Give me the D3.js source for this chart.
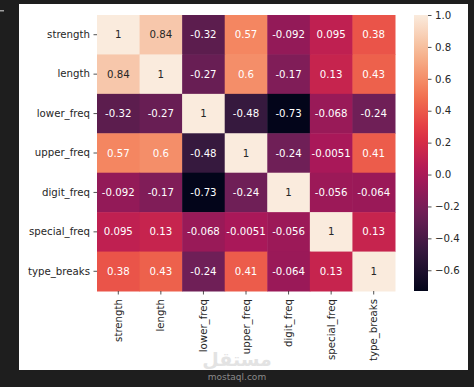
<!DOCTYPE html>
<html>
<head>
<meta charset="utf-8">
<script src="https://cdn.jsdelivr.net/npm/d3@7/dist/d3.min.js"></script>
<style>
    body { margin: 0; background: #1e1e1e; }
    svg { display: block; }
    text { font-family: "DejaVu Sans", sans-serif; }
</style>
</head>
<body>
<svg width="474" height="387"></svg>
<script>
// column / row names
var features = ["strength", "length", "lower_freq", "upper_freq", "digit_freq", "special_freq", "type_breaks"];

// correlation matrix, one row per feature
var strengthRow = [1, 0.84, -0.32, 0.57, -0.092, 0.095, 0.38];
var lengthRow = [0.84, 1, -0.27, 0.6, -0.17, 0.13, 0.43];
var lowerRow = [-0.32, -0.27, 1, -0.48, -0.73, -0.068, -0.24];
var upperRow = [0.57, 0.6, -0.48, 1, -0.24, -0.0051, 0.41];
var digitRow = [-0.092, -0.17, -0.73, -0.24, 1, -0.056, -0.064];
var specialRow = [0.095, 0.13, -0.068, -0.0051, -0.056, 1, 0.13];
var breaksRow = [0.38, 0.43, -0.24, 0.41, -0.064, 0.13, 1];
var rows = [strengthRow, lengthRow, lowerRow, upperRow, digitRow, specialRow, breaksRow];

var colorbarTicks = [-0.6, -0.4, -0.2, 0.0, 0.2, 0.4, 0.6, 0.8, 1.0];

// seaborn "rocket" colormap, approximated with evenly spaced stops
var rocketStops = ["#03051a", "#35193e", "#701f57", "#ad1759", "#e13342", "#f37651", "#f6b48f", "#faebdd"];
var rocket = d3.piecewise(d3.interpolateRgb, rocketStops);

var svg = d3.select("svg");

// white figure panel on dark page
svg.append("rect")
    .attr("x", 19).attr("y", 4)
    .attr("width", 449).attr("height", 366)
    .attr("fill", "#ffffff");
// little mark at the top-left of the dark page
svg.append("rect")
    .attr("x", 0).attr("y", 10)
    .attr("width", 4).attr("height", 1.5)
    .attr("fill", "#a0a0a0");

var hmLeft = 97, hmTop = 15, hmRight = 395, hmBottom = 291;
var fontSize = "10.2px";

var vmin = d3.min(rows, function(r) { return d3.min(r); });
var vmax = d3.max(rows, function(r) { return d3.max(r); });

var color = d3.scaleSequential(rocket).domain([vmin, vmax]);

var x = d3.scaleBand().domain(features).range([hmLeft, hmRight]);
var y = d3.scaleBand().domain(features).range([hmTop, hmBottom]);

var cells = [];
rows.forEach(function(r, i) {
    r.forEach(function(v, j) {
        cells.push({ row: features[i], col: features[j], value: v });
    });
});

function luminance(c) {
    var rgb = d3.rgb(c);
    var ch = [rgb.r, rgb.g, rgb.b].map(function(v) {
        v = v / 255;
        return v <= 0.03928 ? v / 12.92 : Math.pow((v + 0.055) / 1.055, 2.4);
    });
    return 0.2126 * ch[0] + 0.7152 * ch[1] + 0.0722 * ch[2];
}

var g = svg.append("g");

g.selectAll(".cell")
    .data(cells)
    .enter().append("rect")
    .attr("class", "cell")
    .attr("x", function(d) { return x(d.col); })
    .attr("y", function(d) { return y(d.row); })
    .attr("width", x.bandwidth() + 0.5)
    .attr("height", y.bandwidth() + 0.5)
    .attr("fill", function(d) { return color(d.value); });

var fmt = d3.format(".2~g");

g.selectAll(".annot")
    .data(cells)
    .enter().append("text")
    .attr("class", "annot")
    .attr("x", function(d) { return x(d.col) + x.bandwidth() / 2; })
    .attr("y", function(d) { return y(d.row) + y.bandwidth() / 2; })
    .attr("text-anchor", "middle")
    .attr("dominant-baseline", "central")
    .attr("font-size", fontSize)
    .attr("fill", function(d) {
        return luminance(color(d.value)) > 0.408 ? "#262626" : "#ffffff";
    })
    .text(function(d) { return fmt(d.value).replace("−", "-"); });

// axes
var yAxis = svg.append("g")
    .attr("transform", "translate(" + hmLeft + ",0)")
    .call(d3.axisLeft(y).tickSize(3.5).tickPadding(3.5));
yAxis.select(".domain").remove();

var xAxis = svg.append("g")
    .attr("transform", "translate(0," + hmBottom + ")")
    .call(d3.axisBottom(x).tickSize(3.5).tickPadding(3));
xAxis.select(".domain").remove();
xAxis.selectAll("text")
    .attr("transform", "rotate(-90)")
    .attr("text-anchor", "end")
    .attr("x", -8)
    .attr("y", 0)
    .attr("dy", "0.35em");

[yAxis, xAxis].forEach(function(a) {
    a.selectAll("text").attr("font-size", fontSize).attr("fill", "#262626")
        .attr("font-family", "DejaVu Sans, sans-serif");
    a.selectAll("line").attr("stroke", "#262626").attr("stroke-width", 0.8);
});

// colorbar
var cbX = 414, cbW = 14;
var cbScale = d3.scaleLinear().domain([vmin, vmax]).range([hmBottom, hmTop]);

var defs = svg.append("defs");
var grad = defs.append("linearGradient")
    .attr("id", "cbgrad")
    .attr("x1", 0).attr("y1", 1).attr("x2", 0).attr("y2", 0);
d3.range(0, 1.0001, 0.05).forEach(function(t) {
    grad.append("stop")
        .attr("offset", t)
        .attr("stop-color", rocket(t));
});

svg.append("rect")
    .attr("x", cbX).attr("y", hmTop)
    .attr("width", cbW).attr("height", hmBottom - hmTop)
    .attr("fill", "url(#cbgrad)");

var cbAxis = svg.append("g")
    .attr("transform", "translate(" + (cbX + cbW) + ",0)")
    .call(d3.axisRight(cbScale).tickValues(colorbarTicks).tickSize(3.5).tickPadding(3.5)
        .tickFormat(d3.format(".1f")));
cbAxis.select(".domain").remove();
cbAxis.selectAll("text").attr("font-size", fontSize).attr("fill", "#262626")
    .attr("font-family", "DejaVu Sans, sans-serif");
cbAxis.selectAll("line").attr("stroke", "#262626").attr("stroke-width", 0.8);

// site watermark
svg.append("text")
    .attr("x", 237).attr("y", 366)
    .attr("text-anchor", "middle")
    .attr("font-size", "19px")
    .attr("font-weight", "bold")
    .attr("fill", "#d8d8d8")
    .attr("opacity", 0.7)
    .text("مستقل");
svg.append("text")
    .attr("x", 237).attr("y", 380)
    .attr("text-anchor", "middle")
    .attr("font-size", "9px")
    .attr("fill", "#8a8a8a")
    .text("mostaql.com");
</script>
</body>
</html>
